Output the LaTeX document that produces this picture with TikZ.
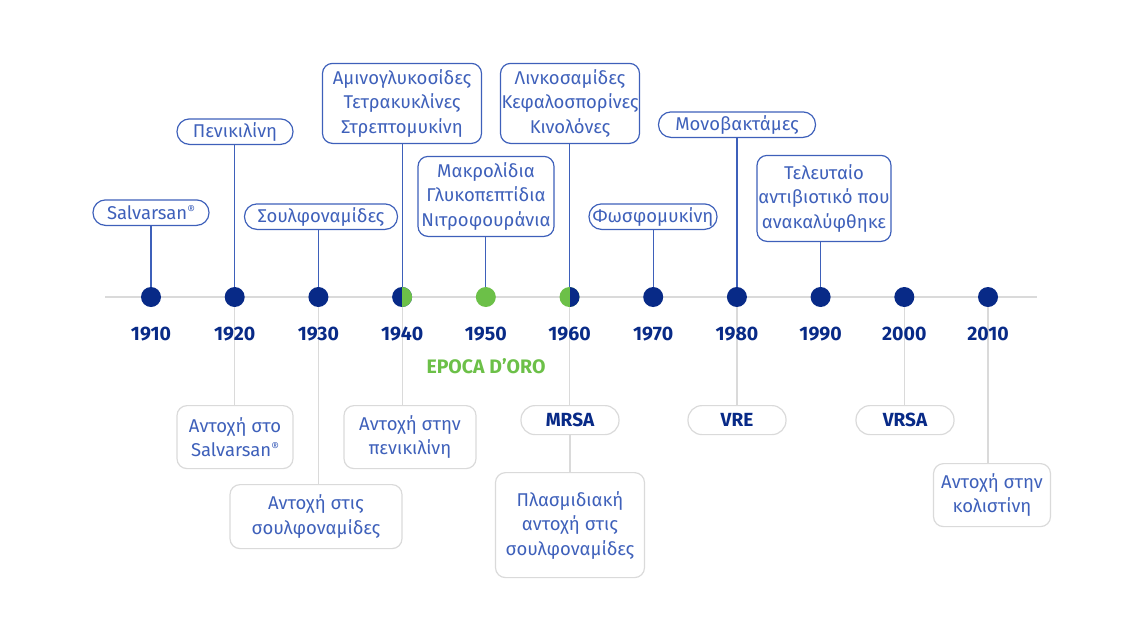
\documentclass[tikz,border=0pt]{standalone}
\usepackage{fontspec}
\setmainfont{Fira Sans}
\IfFontExistsTF{FiraSans-Light.otf}
  {\newfontfamily\lightfont{FiraSans-Light.otf}}
  {\newfontfamily\lightfont{Fira Sans}}
\usetikzlibrary{positioning}

\definecolor{navy}{RGB}{8,42,135}
\definecolor{boxblue}{RGB}{62,96,186}
\definecolor{golden}{RGB}{108,192,72}
\definecolor{lightgrey}{RGB}{218,218,218}

\newcommand{\regmark}{\raisebox{.55ex}{\fontsize{12}{12}\selectfont ®}}

\tikzset{
  axisline/.style={draw=lightgrey, line width=2pt},
  dot/.style={circle, fill=navy, minimum size=20pt, inner sep=0pt},
  dotgreen/.style={dot, fill=golden},
  dotnavygreen/.style={dot, path picture={\fill[golden] (path picture bounding box.north) rectangle (path picture bounding box.south east);}},
  dotgreennavy/.style={dot, fill=golden, path picture={\fill[navy] (path picture bounding box.north) rectangle (path picture bounding box.south east);}},
  year/.style={text=navy, font=\fontsize{19.5}{22}\selectfont\bfseries, inner sep=0pt},
  topbox/.style={draw=boxblue, line width=1.2pt, rounded corners=10pt, text=boxblue, align=center,
    font=\lightfont\fontsize{18.5}{24.5}\selectfont, inner sep=1pt, anchor=south},
  toppill/.style={topbox, rounded corners=12.5pt, minimum height=25.5pt},
  botbox/.style={draw=lightgrey, line width=1.2pt, rounded corners=10pt, text=boxblue, align=center,
    font=\lightfont\fontsize{18.5}{24.5}\selectfont, inner sep=1pt, anchor=north},
  botpill/.style={botbox, rounded corners=14pt, minimum width=98pt, minimum height=29pt,
    text=navy, font=\fontsize{19}{22}\selectfont\bfseries},
  stem/.style={draw=boxblue, line width=1.2pt},
  gstem/.style={draw=lightgrey, line width=1.2pt},
}

\begin{document}
\begin{tikzpicture}[x=1pt, y=-1pt]
\useasboundingbox (0,0) rectangle (1140,641);

% time axis
\coordinate (axl) at (105,297);
\coordinate (axr) at (1037,297);
\draw[axisline] (axl) -- (axr);

\foreach \yr/\sty [count=\i from 0] in {1910/dot,1920/dot,1930/dot,1940/dotnavygreen,1950/dotgreen,
    1960/dotgreennavy,1970/dot,1980/dot,1990/dot,2000/dot,2010/dot}
  \node[\sty] (d\yr) at (151+83.7*\i,297) {};

% discoveries
\node[toppill, minimum width=116pt] (t1910) at (151,226) {Salvarsan\regmark};
\node[toppill, minimum width=116pt] (t1920) at (235,145) {Πενικιλίνη};
\node[toppill, minimum width=153pt, xshift=2pt] (t1930) at (319,230) {Σουλφοναμίδες};
\node[topbox, minimum width=159pt, minimum height=80pt] (t1940) at (402,144) {Αμινογλυκοσίδες\\Τετρακυκλίνες\\Στρεπτομυκίνη};
\node[topbox, minimum width=136pt, minimum height=80pt] (t1950) at (486,237) {Μακρολίδια\\Γλυκοπεπτίδια\\Νιτροφουράνια};
\node[topbox, minimum width=139pt, minimum height=80pt] (t1960) at (570,144) {Λινκοσαμίδες\\Κεφαλοσπορίνες\\Κινολόνες};
\node[toppill, minimum width=128pt] (t1970) at (653,230) {Φωσφομυκίνη};
\node[toppill, minimum width=157pt] (t1980) at (737,138) {Μονοβακτάμες};
\node[topbox, minimum width=134pt, minimum height=86pt, xshift=3pt] (t1990) at (821,242) {Τελευταίο\\αντιβιοτικό που\\ανακαλύφθηκε};

\foreach \yr in {1910,1920,1930,1940,1950,1960,1970,1980,1990}
  \draw[stem] (d\yr) -- (d\yr |- t\yr.south);

% resistances
\node[botbox, minimum width=116pt, minimum height=63pt] (b1920) at (235,405) {Αντοχή στο\\Salvarsan\regmark};
\node[botbox, minimum width=172pt, minimum height=64pt, xshift=-3pt] (b1930) at (319,484) {Αντοχή στις\\σουλφοναμίδες};
\node[botbox, minimum width=132pt, minimum height=63pt, xshift=7pt] (b1940) at (403,405) {Αντοχή στην\\πενικιλίνη};
\node[botpill] (b1960) at (570,405) {MRSA};
\node[botbox, minimum width=149pt, minimum height=105pt] (p1960) at (570,472) {Πλασμιδιακή\\αντοχή στις\\σουλφοναμίδες};
\node[botpill] (b1980) at (737,405) {VRE};
\node[botpill] (b2000) at (905,405) {VRSA};
\node[botbox, minimum width=117pt, minimum height=63pt, xshift=4pt] (b2010) at (988,463) {Αντοχή στην\\κολιστίνη};

\foreach \yr in {1920,1930,1940,1960,1980,2000,2010}
  \draw[gstem] (d\yr) -- (d\yr |- b\yr.north);
\draw[gstem] (b1960) -- (p1960);

% years
\foreach \yr in {1910,1920,1930,1940,1950,1960,1970,1980,1990,2000,2010}
  \node[year, below=30pt of d\yr.center] (y\yr) {\yr};

\node[year, text=golden] (golden) at (486,366) {EPOCA D{\char"0027}ORO};
\end{tikzpicture}
\end{document}
